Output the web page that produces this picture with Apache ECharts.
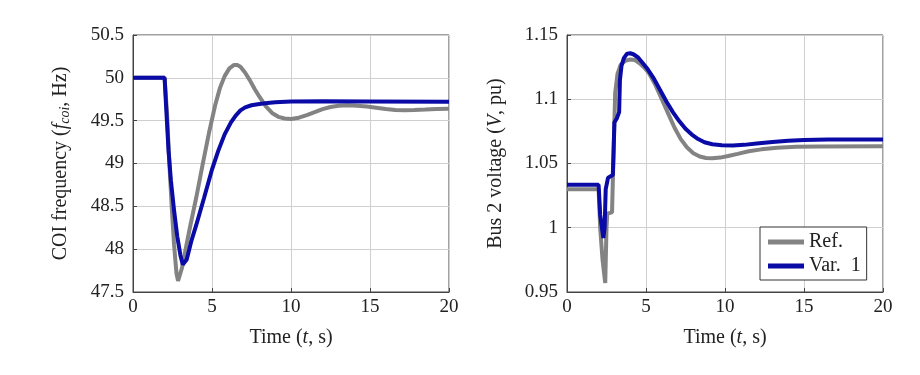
<!DOCTYPE html>
<html>
<head>
<meta charset="utf-8">
<script src="https://cdn.jsdelivr.net/npm/echarts@6/dist/echarts.min.js"></script>
<style>
  html, body { margin: 0; padding: 0; background: #fff; }
  #chart { width: 920px; height: 375px; }
</style>
</head>
<body>
<div id="chart"></div>
<script>
// 时间刻度
const timeTicks = [0, 5, 10, 15, 20];

// 左图: COI 频率 [t, Hz]
const freqRef = [
  [0, 50], [2.0, 50], [2.15, 49.6], [2.3, 49.0], [2.45, 48.5], [2.6, 48.05], [2.75, 47.72],
  [2.85, 47.63], [2.95, 47.65], [3.1, 47.78], [3.3, 47.97], [3.6, 48.25], [4.0, 48.6],
  [4.4, 48.98], [4.8, 49.35], [5.2, 49.68], [5.5, 49.88], [5.8, 50.02], [6.1, 50.11],
  [6.4, 50.15], [6.6, 50.15], [6.8, 50.13], [7.1, 50.06], [7.4, 49.97], [7.7, 49.87],
  [8.0, 49.78], [8.4, 49.67], [8.8, 49.59], [9.2, 49.545], [9.6, 49.525], [10.0, 49.52],
  [10.5, 49.535], [11.0, 49.565], [11.5, 49.6], [12.0, 49.635], [12.5, 49.66], [13.0, 49.675],
  [13.6, 49.68], [14.2, 49.675], [14.8, 49.665], [15.4, 49.65], [16.0, 49.635], [16.6, 49.625],
  [17.2, 49.622], [17.8, 49.624], [18.5, 49.63], [19.2, 49.637], [20, 49.64]
];
const freqVar1 = [
  [0, 50], [2.0, 50], [2.1, 49.65], [2.25, 49.15], [2.4, 48.8], [2.6, 48.45], [2.8, 48.15],
  [3.0, 47.93], [3.15, 47.82], [3.25, 47.8], [3.4, 47.88], [3.7, 48.1], [4.0, 48.28],
  [4.5, 48.6], [5.0, 48.93], [5.4, 49.15], [5.8, 49.34], [6.2, 49.48], [6.5, 49.56],
  [6.8, 49.62], [7.1, 49.655], [7.5, 49.68], [8.0, 49.695], [8.5, 49.705], [9.0, 49.715],
  [10, 49.725], [12, 49.728], [15, 49.725], [20, 49.72]
];

// 右图: 母线2电压 [t, pu]
const voltRef = [
  [0, 1.030], [2.0, 1.030], [2.1, 1.0], [2.25, 0.975], [2.42, 0.957], [2.5, 1.0],
  [2.55, 1.011], [2.85, 1.012], [2.95, 1.06], [3.05, 1.105], [3.2, 1.12], [3.4, 1.127],
  [3.7, 1.13], [4.0, 1.131], [4.3, 1.1305], [4.6, 1.128], [4.9, 1.1245], [5.2, 1.12],
  [5.6, 1.111], [6.0, 1.1], [6.4, 1.089], [6.8, 1.078], [7.2, 1.069], [7.6, 1.0625],
  [8.0, 1.058], [8.4, 1.0555], [8.8, 1.0543], [9.2, 1.054], [9.7, 1.0546], [10.2, 1.0558],
  [10.8, 1.0575], [11.5, 1.0595], [12.3, 1.061], [13.3, 1.0622], [14.5, 1.063],
  [16, 1.0633], [20, 1.0634]
];
const voltVar1 = [
  [0, 1.0334], [2.0, 1.0334], [2.1, 1.01], [2.3, 0.992], [2.38, 1.0], [2.45, 1.03],
  [2.6, 1.039], [2.9, 1.041], [2.95, 1.06], [3.0, 1.082], [3.15, 1.085], [3.3, 1.09],
  [3.35, 1.115], [3.45, 1.126], [3.6, 1.132], [3.8, 1.1355], [4.0, 1.1358], [4.2, 1.135],
  [4.5, 1.1325], [4.8, 1.128], [5.1, 1.1235], [5.5, 1.116], [5.9, 1.107], [6.3, 1.098],
  [6.7, 1.09], [7.1, 1.083], [7.5, 1.077], [7.9, 1.0725], [8.3, 1.069], [8.7, 1.0665],
  [9.2, 1.065], [9.8, 1.0642], [10.5, 1.064], [11.2, 1.0645], [12.0, 1.0655], [13, 1.0667],
  [14, 1.0677], [15, 1.0683], [16.5, 1.0686], [20, 1.0686]
];

const font = "Liberation Serif";
const nameStyle = {
  fontFamily: font,
  fontSize: 20,
  color: "#222",
  rich: {
    i: { fontFamily: font, fontSize: 20, fontStyle: "italic", color: "#222" },
    sub: { fontFamily: font, fontSize: 14, fontStyle: "italic", color: "#222", padding: [8, 0, 0, 0] },
  },
};
const labelStyle = { fontFamily: font, fontSize: 19, color: "#222" };

function xAxisOf(idx) {
  return {
    type: "value",
    gridIndex: idx,
    min: timeTicks[0],
    max: timeTicks[timeTicks.length - 1],
    interval: 5,
    name: "Time ({i|t}, s)",
    nameLocation: "middle",
    nameGap: 36,
    nameTextStyle: nameStyle,
    axisLine: { lineStyle: { color: "#444", width: 1 } },
    axisTick: { inside: true, length: 4, lineStyle: { color: "#444" } },
    axisLabel: Object.assign({ margin: 6 }, labelStyle),
    splitLine: { show: true, lineStyle: { color: "#cfcfcf", width: 1 } },
  };
}

const myChart = echarts.init(document.getElementById("chart"));
myChart.setOption({
  animation: false,
  backgroundColor: "#fff",
  grid: [
    { left: 133, right: 471, top: 35, bottom: 83, show: true, borderColor: "#444", borderWidth: 1 },
    { left: 567, right: 37, top: 35, bottom: 83, show: true, borderColor: "#444", borderWidth: 1 },
  ],
  legend: {
    data: ["Ref.", "Var.  1"],
    orient: "vertical",
    left: 760,
    top: 227,
    padding: [5, 6, 4, 8],
    itemGap: 4,
    itemWidth: 36,
    itemHeight: 5,
    icon: "rect",
    borderColor: "#333",
    borderWidth: 1,
    borderRadius: 0,
    backgroundColor: "#fff",
    textStyle: { fontFamily: font, fontSize: 20, color: "#222", width: 58 },
  },
  xAxis: [xAxisOf(0), xAxisOf(1)],
  yAxis: [
    {
      type: "value",
      gridIndex: 0,
      min: 47.5,
      max: 50.5,
      interval: 0.5,
      name: "COI frequency ({i|f}{sub|coi}, Hz)",
      nameLocation: "middle",
      nameGap: 61,
      nameTextStyle: nameStyle,
      axisLine: { show: true, lineStyle: { color: "#444", width: 1 } },
      axisTick: { show: true, inside: true, length: 4, lineStyle: { color: "#444" } },
      axisLabel: Object.assign({ margin: 9 }, labelStyle),
      splitLine: { show: true, lineStyle: { color: "#cfcfcf", width: 1 } },
    },
    {
      type: "value",
      gridIndex: 1,
      min: 0.95,
      max: 1.15,
      interval: 0.05,
      name: "Bus 2 voltage ({i|V}, pu)",
      nameLocation: "middle",
      nameGap: 61,
      nameTextStyle: nameStyle,
      axisLine: { show: true, lineStyle: { color: "#444", width: 1 } },
      axisTick: { show: true, inside: true, length: 4, lineStyle: { color: "#444" } },
      axisLabel: Object.assign({ margin: 9 }, labelStyle),
      splitLine: { show: true, lineStyle: { color: "#cfcfcf", width: 1 } },
    },
  ],
  series: [
    {
      name: "Ref.", type: "line", xAxisIndex: 0, yAxisIndex: 0, data: freqRef,
      showSymbol: false, lineStyle: { color: "#838383", width: 4 }, itemStyle: { color: "#838383" },
    },
    {
      name: "Var.  1", type: "line", xAxisIndex: 0, yAxisIndex: 0, data: freqVar1,
      showSymbol: false, lineStyle: { color: "#0a0aa6", width: 4 }, itemStyle: { color: "#0a0aa6" },
    },
    {
      name: "Ref.", type: "line", xAxisIndex: 1, yAxisIndex: 1, data: voltRef,
      showSymbol: false, lineStyle: { color: "#838383", width: 4 }, itemStyle: { color: "#838383" },
    },
    {
      name: "Var.  1", type: "line", xAxisIndex: 1, yAxisIndex: 1, data: voltVar1,
      showSymbol: false, lineStyle: { color: "#0a0aa6", width: 4 }, itemStyle: { color: "#0a0aa6" },
    },
  ],
});
</script>
</body>
</html>
